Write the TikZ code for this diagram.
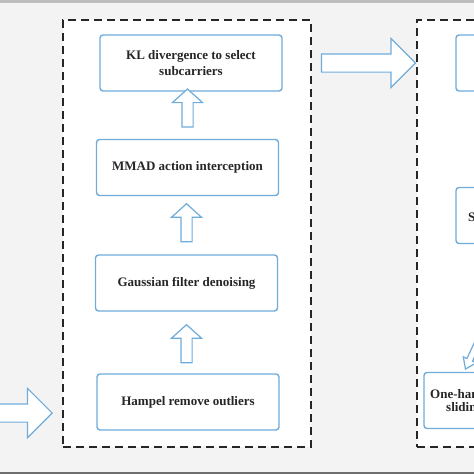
\documentclass[tikz,border=0pt]{standalone}
\usepackage{fontspec}
\setmainfont{Liberation Serif}
\usetikzlibrary{shapes.arrows,calc}

\definecolor{boxblue}{RGB}{112,172,218}
\definecolor{bggray}{RGB}{243,243,243}
\definecolor{topgray}{RGB}{190,190,190}
\definecolor{botgray}{RGB}{110,110,110}
\newcommand\stagefont{\fontsize{13}{16}\selectfont\bfseries}

\begin{document}
\begin{tikzpicture}[
    x=1pt, y=-1pt,
    frame/.style={draw=black!85, dash pattern=on 8pt off 5pt, line width=1.3pt,
                  fill=white, inner sep=0pt},
    stage/.style={draw=boxblue, line width=1.4pt, rounded corners=3pt, fill=white,
                  minimum width=182pt, minimum height=56pt, inner sep=0pt,
                  align=center, font=\stagefont, text=black!85},
    txt/.style={font=\stagefont, text=black!85, inner sep=0pt, anchor=west},
    uparr/.style={single arrow, draw=boxblue, line width=1.2pt, fill=white,
                  rotate=90, minimum width=29pt, minimum height=38pt,
                  single arrow head extend=9.5pt, single arrow tip angle=96,
                  inner xsep=0pt, inner ysep=5pt},
    bigarr/.style={single arrow, draw=boxblue, line width=1.2pt, fill=white,
                   minimum width=48pt, minimum height=94pt,
                   single arrow head extend=15.5pt, single arrow tip angle=90,
                   inner xsep=0pt, inner ysep=8.5pt}
]

\useasboundingbox (0,0) rectangle (474,474);
\clip (0,0) rectangle (474,474);

%% Sfondo
\fill[bggray]  (0,0) rectangle (474,474);
\fill[topgray] (0,0) rectangle (474,3);
\fill[botgray] (0,472) rectangle (474,474);

%% Riquadri tratteggiati
\node[frame, minimum width=248pt, minimum height=427pt] (prep)   at (187,233.5) {};
\node[frame, minimum width=283pt, minimum height=427pt] (rframe) at (558.5,233.5) {};

%% Fasi di pre-elaborazione
\node[stage] (kl)     at (191,63)    {KL divergence to select\\subcarriers};
\node[stage] (mmad)   at (187.5,167.5) {MMAD action interception};
\node[stage] (gauss)  at (186.5,283) {Gaussian filter denoising};
\node[stage] (hampel) at (188,402)   {Hampel remove outliers};

%% Frecce verticali
\node[uparr] (up1) at ($(mmad.north)!0.6!(mmad.north |- kl.south)$) {};
\node[uparr] (up2) at ($(gauss.north)!0.5!(gauss.north |- mmad.south)$) {};
\node[uparr] (up3) at ($(gauss.south |- hampel.north)!0.44!(gauss.south)$) {};

%% Frecce orizzontali
\node[bigarr, anchor=tip] (inarr) at (53,413) {};
\node[bigarr] (midarr) at ($(prep.east |- kl)!0.5!(rframe.west |- kl)$) {};

%% Riquadro a destra (tagliato)
\node[stage] (rtop) at (547,63)    {};
\node[stage] (rmid) at (547,215.5) {};
\node[stage] (rbot) at (515,400.5) {};
\node[txt] (rmidtxt)  at (468,217) {S};
\node[txt] (rbottxt1) at (430,394) {One-hand};
\node[txt] (rbottxt2) at (446,408) {sliding};
\node[single arrow, draw=boxblue, line width=1.2pt, fill=white, rotate=245,
      minimum width=13pt, minimum height=50pt, single arrow head extend=4pt,
      single arrow tip angle=70, inner xsep=0pt, inner ysep=2.5pt,
      anchor=tip] (diag) at (465,370) {};

\end{tikzpicture}
\end{document}
